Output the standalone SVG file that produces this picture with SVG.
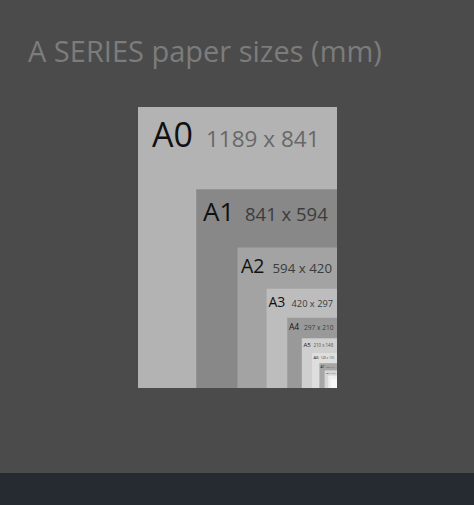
<svg xmlns="http://www.w3.org/2000/svg" width="474" height="505" viewBox="0 0 474 505">
<style>
.t{font-family:"Open Sans","Liberation Sans",sans-serif}
.lab{fill:#111}
.dim0{fill:#686868}
.dim{fill:#3c3c3c}
.dimS{fill:#505050}
</style>
<rect x="0" y="0" width="474" height="505" fill="#4b4b4b"/>
<text class="t" x="28" y="62" font-size="29" fill="#7c7c7c">A SERIES paper sizes (mm)</text>
<g id="A0">
<rect x="138" y="107" width="199" height="281" fill="#b3b3b3"/>
<text class="t lab" x="152" y="147" font-size="34">A0</text>
<text class="t dim0" x="206" y="147" font-size="22.5">1189 x 841</text>
</g>
<g id="A1">
<rect x="196.3" y="189.3" width="140.7" height="198.7" fill="#888888"/>
<text class="t lab" x="203" y="221" font-size="26">A1</text>
<text class="t dim" x="245" y="221" font-size="18.5">841 x 594</text>
</g>
<g id="A2">
<rect x="237.5" y="247.5" width="99.5" height="140.5" fill="#a3a3a3"/>
<text class="t lab" x="241" y="272.5" font-size="19.5">A2</text>
<text class="t dim" x="272.5" y="272.5" font-size="13.3">594 x 420</text>
</g>
<g id="A3">
<rect x="266.6" y="288.7" width="70.4" height="99.3" fill="#bdbdbd"/>
<text class="t lab" x="268.5" y="307" font-size="14">A3</text>
<text class="t dim" x="291.5" y="307" font-size="9.3">420 x 297</text>
</g>
<g id="A4">
<rect x="287.25" y="317.75" width="49.75" height="70.25" fill="#999999"/>
<text class="t lab" x="289" y="330" font-size="8.5">A4</text>
<text class="t dim" x="304" y="330" font-size="6.6">297 x 210</text>
</g>
<g id="A5">
<rect x="301.8" y="338.3" width="35.2" height="49.7" fill="#cfcfcf"/>
<text class="t lab" x="303.5" y="346.5" font-size="6">A5</text>
<text class="t dimS" x="313.5" y="346.5" font-size="4.4">210 x 148</text>
</g>
<g id="A6">
<rect x="312.1" y="352.9" width="24.9" height="35.1" fill="#dedede"/>
<text class="t lab" x="313.5" y="358.5" font-size="4.3">A6</text>
<text class="t dimS" x="320.5" y="358.5" font-size="3.1">148 x 105</text>
</g>
<g id="A7">
<rect x="319.4" y="363.2" width="17.6" height="24.8" fill="#a6a6a6"/>
<text class="t lab" x="320.5" y="367.5" font-size="3.2">A7</text>
<text class="t dimS" x="325.5" y="367.5" font-size="2.3">105 x 74</text>
</g>
<g id="A8">
<rect x="324.6" y="370.4" width="12.4" height="17.6" fill="#d6d6d6"/>
<text class="t lab" x="325.5" y="374" font-size="2.5">A8</text>
<text class="t dimS" x="329.3" y="374" font-size="1.8">74 x 52</text>
</g>
<g id="A9">
<rect x="328.2" y="375.6" width="8.8" height="12.4" fill="#ededed"/>
</g>
<g id="A10">
<rect x="330.8" y="379.2" width="6.2" height="8.8" fill="#f7f7f7"/>
</g>
<g id="connectors"></g>
<rect x="0" y="473" width="474" height="32" fill="#262a31"/>
</svg>
